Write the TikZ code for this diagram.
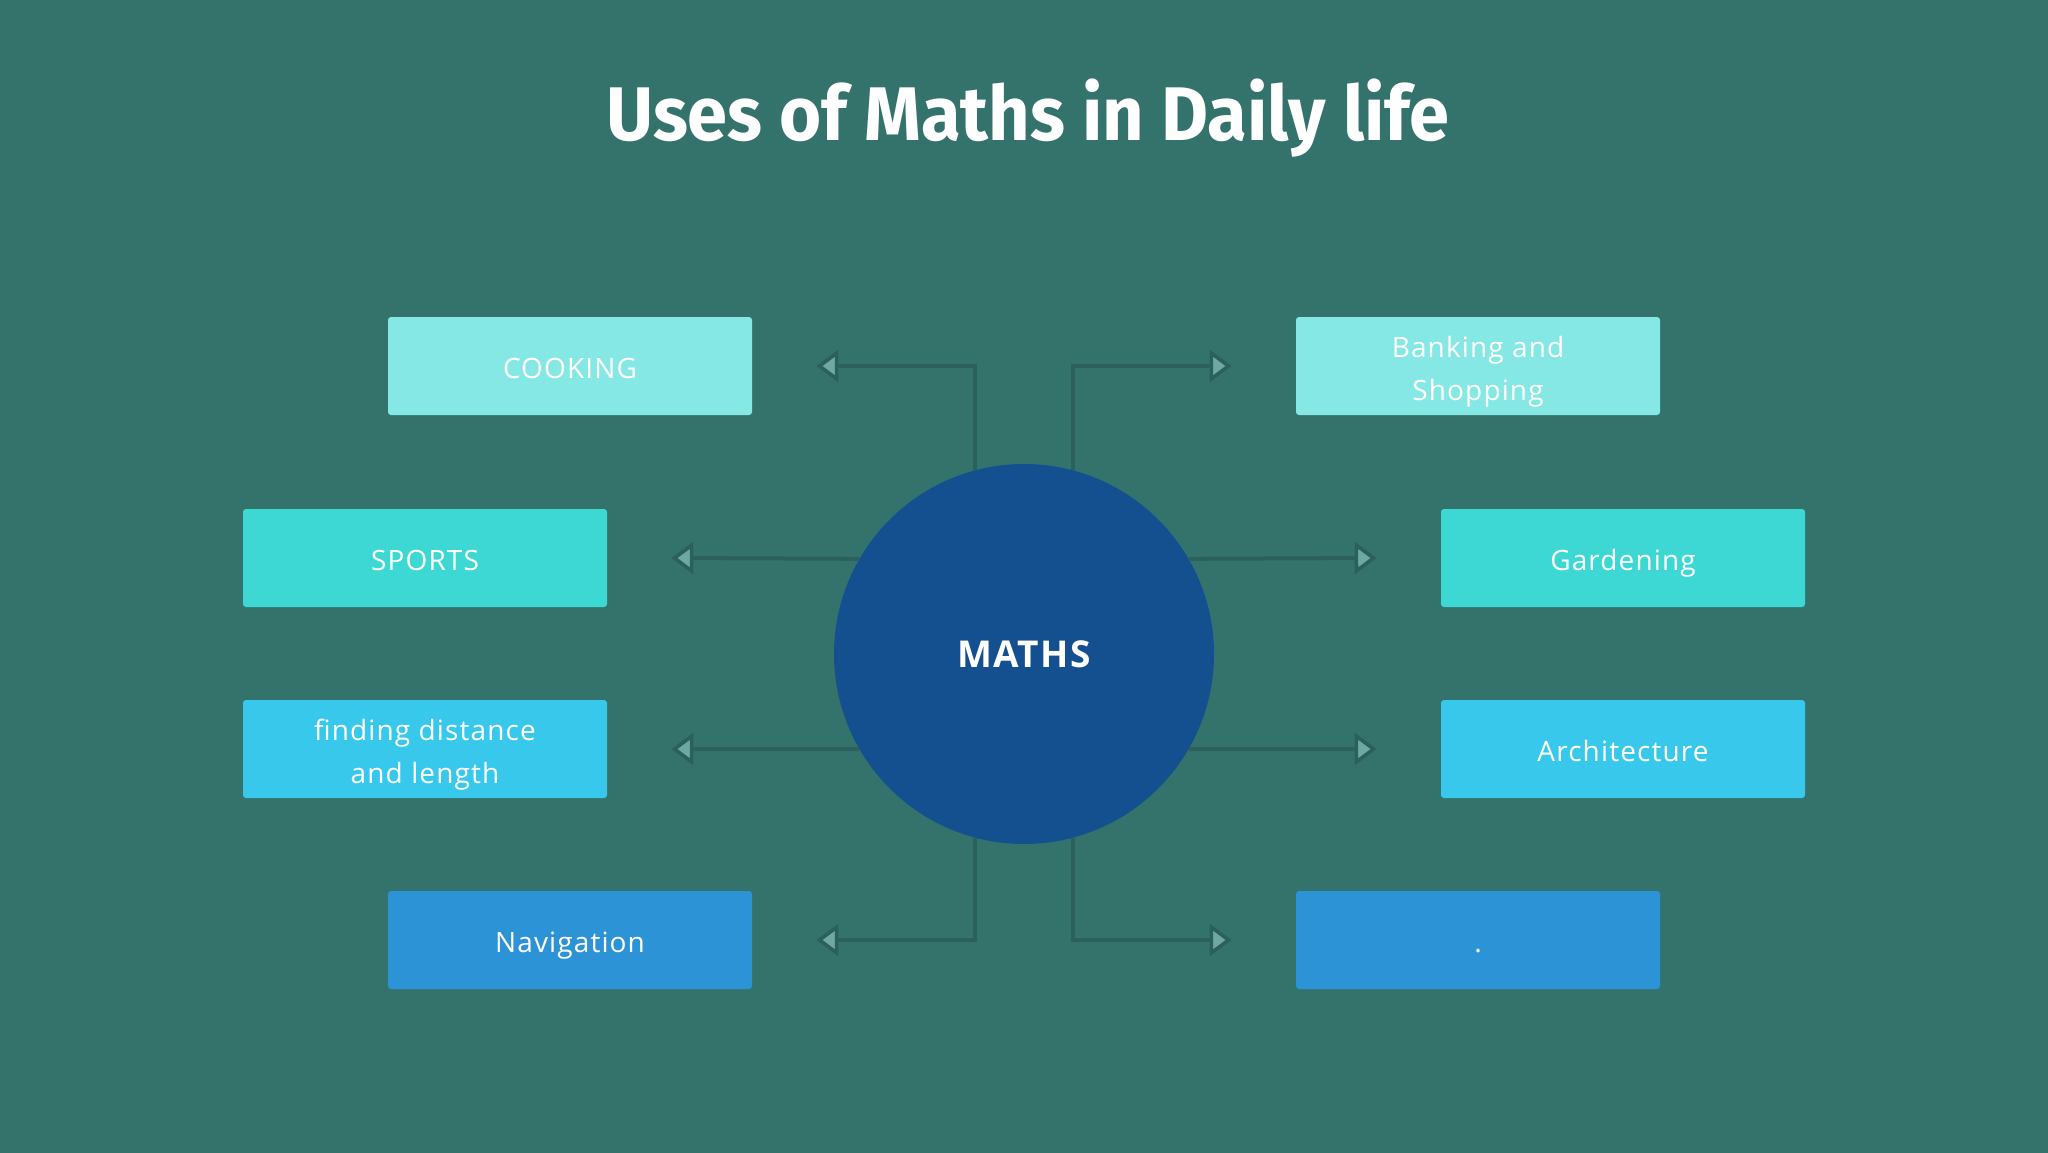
\documentclass[tikz,border=0pt]{standalone}
\usepackage{fontspec}
\setmainfont{Open Sans}[LetterSpace=4]
\newfontfamily\titlefont{Fira Sans}[FakeStretch=0.95]
\newfontfamily\mathsfont{Open Sans}[LetterSpace=4]
\usetikzlibrary{arrows.meta,calc}
\definecolor{bg}{HTML}{34736C}
\definecolor{circ}{HTML}{14508F}
\definecolor{lin}{HTML}{2C615B}
\definecolor{tipf}{HTML}{6EA8A3}
\definecolor{boxa}{HTML}{86E8E4}
\definecolor{boxb}{HTML}{3ED8D4}
\definecolor{boxc}{HTML}{38C8EC}
\definecolor{boxd}{HTML}{2C93D6}
\begin{document}
\begin{tikzpicture}[x=0.5pt,y=-0.5pt,
  usebox/.style={rectangle,rounded corners=1.5pt,minimum width=182pt,minimum height=49pt,
    text=white,font=\fontsize{14}{21.5}\selectfont,align=center,inner sep=0pt},
  oneline/.style={usebox,execute at begin node={\rule{0pt}{17pt}},execute at end node={\rule[-4.6pt]{0pt}{0pt}}},
  twoline/.style={usebox,execute at begin node={\rule{0pt}{40pt}},execute at end node={\rule[-6pt]{0pt}{0pt}}},
  conn/.style={draw=lin,line width=2pt,
    -{Triangle[length=11pt,width=16pt,fill=tipf,line width=1.8pt]}}]
\useasboundingbox (0,0) rectangle (2048,1152);
\fill[bg] (-10,-10) rectangle (2058,1162);
\node[text=white,font=\titlefont\bfseries\fontsize{38}{40}\selectfont] (title) at (1028,118) {Uses of Maths in Daily life};
\node[oneline,fill=boxa] (cook) at (570,366) {COOKING};
\node[twoline,fill=boxa] (bank) at (1478,366) {Banking and\\Shopping};
\node[oneline,fill=boxb] (sports) at (425,558) {SPORTS};
\node[oneline,fill=boxb] (garden) at (1623,558) {Gardening};
\node[twoline,fill=boxc] (dist) at (425,749) {finding distance\\and length};
\node[oneline,fill=boxc] (arch) at (1623,749) {Architecture};
\node[oneline,fill=boxd] (nav) at (570,940) {Navigation};
\node[oneline,fill=boxd] (dot) at (1478,940) {.};
\node[circle,fill=circ,minimum size=190pt,inner sep=0pt,text=white,
  font=\mathsfont\bfseries\fontsize{18.5}{20}\selectfont] (m) at (1024,654) {MATHS};
\draw[conn] (m.105) |- ($(cook.east)+(64,0)$);
\draw[conn] (m.75) |- ($(bank.west)+(-64,0)$);
\draw[conn] (m.150) -- ($(sports.east)+(64,0)$);
\draw[conn] (m.30) -- ($(garden.west)+(-64,0)$);
\draw[conn] (m.210) -- ($(dist.east)+(64,0)$);
\draw[conn] (m.330) -- ($(arch.west)+(-64,0)$);
\draw[conn] (m.255) |- ($(nav.east)+(64,0)$);
\draw[conn] (m.285) |- ($(dot.west)+(-64,0)$);
\end{tikzpicture}
\end{document}
